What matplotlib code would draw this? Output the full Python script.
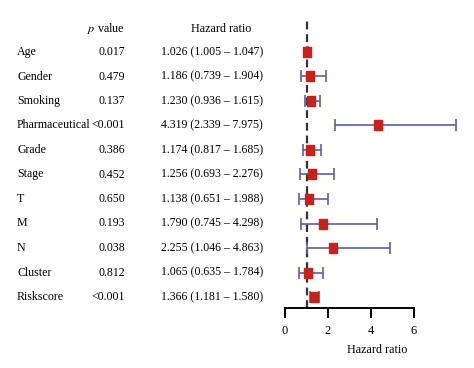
import matplotlib
matplotlib.use("Agg")
import matplotlib.pyplot as plt
from matplotlib.transforms import blended_transform_factory

variables = ['Age', 'Gender', 'Smoking', 'Pharmaceutical', 'Grade', 'Stage',
             'T', 'M', 'N', 'Cluster', 'Riskscore']
p_values = ['0.017', '0.479', '0.137', '<0.001', '0.386', '0.452',
            '0.650', '0.193', '0.038', '0.812', '<0.001']
hr = [1.026, 1.186, 1.230, 4.319, 1.174, 1.256, 1.138, 1.790, 2.255, 1.065, 1.366]
lower = [1.005, 0.739, 0.936, 2.339, 0.817, 0.693, 0.651, 0.745, 1.046, 0.635, 1.181]
upper = [1.047, 1.904, 1.615, 7.975, 1.685, 2.276, 1.988, 4.298, 4.863, 1.784, 1.580]
x_ticks = [0, 2, 4, 6]

plt.rcParams['font.family'] = ['Liberation Serif', 'DejaVu Serif']
plt.rcParams['mathtext.fontset'] = 'stix'
W, H = 474, 368
fig = plt.figure(figsize=(W / 100, H / 100), dpi=100)

# forest panel: data x=0 at 285px, 21.5px per unit
left_px, right_px = 285, 470
top_px, bottom_px = 17, 308
ax = fig.add_axes([left_px / W, 1 - bottom_px / H,
                   (right_px - left_px) / W, (bottom_px - top_px) / H])
ax.set_xlim(0, (right_px - left_px) / 21.5)

n = len(variables)
ys = [n - i for i in range(n)]
row_h = 24.5
ax.set_ylim(1 - (bottom_px - 297) / row_h, n + (52 - top_px) / row_h)

ax.axvline(1, color='#333333', ls=(0, (3.5, 2.2)), lw=1.6, zorder=1)

err_lo = [h - l for h, l in zip(hr, lower)]
err_hi = [u - h for h, u in zip(hr, upper)]
ax.errorbar(hr, ys, xerr=[err_lo, err_hi], fmt='none', ecolor='#5e5ea8',
            elinewidth=1.2, capsize=4.5, capthick=1.2, zorder=2)
box = [(-0.36, -0.5), (0.36, -0.5), (0.36, 0.5), (-0.36, 0.5), (-0.36, -0.5)]
ax.plot(hr, ys, linestyle='none', marker=box, color='#c9201c',
        markersize=7.5, zorder=3)

for s in ['top', 'right', 'left']:
    ax.spines[s].set_visible(False)
ax.spines['bottom'].set_bounds(0, 6)
ax.spines['bottom'].set_linewidth(1.4)
ax.set_yticks([])
ax.set_xticks(x_ticks)
ax.tick_params(axis='x', length=7, width=1.4, labelsize=9, pad=5)
ax.set_xlabel('Hazard ratio', fontsize=8.7, labelpad=5)

# table text on the left
tr = blended_transform_factory(fig.transFigure, ax.transData)
header_y = n + (52 - 29) / row_h
ax.text(125 / W, header_y, r'$\mathit{p}$ value', transform=tr, ha='right',
        va='center', fontsize=8.7)
ax.text(221 / W, header_y, 'Hazard ratio', transform=tr, ha='center',
        va='center', fontsize=8.7)
for i in range(n):
    y = ys[i]
    ax.text(17 / W, y, variables[i], transform=tr, ha='left', va='center',
            fontsize=8.6, clip_on=False)
    ax.text(125 / W, y, p_values[i], transform=tr, ha='right', va='center',
            fontsize=8.5, clip_on=False)
    ax.text(161 / W, y, '%.3f (%.3f \u2013 %.3f)' % (hr[i], lower[i], upper[i]),
            transform=tr, ha='left', va='center', fontsize=8.5, clip_on=False)

fig.savefig('out.png', dpi=100)
